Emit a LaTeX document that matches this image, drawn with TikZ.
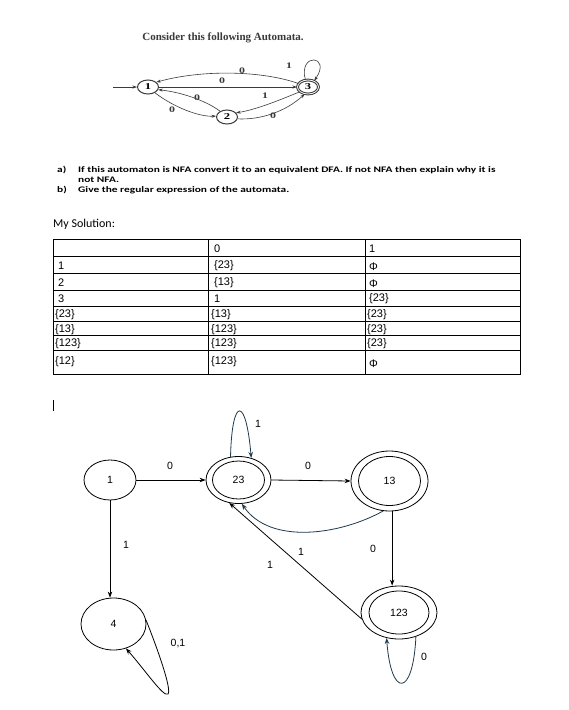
\documentclass[tikz,border=0pt]{standalone}
\usepackage{fontspec}
\setmainfont{Liberation Sans}
\newfontfamily\calib{Carlito}
\newfontfamily\timesf{Liberation Serif}
\usetikzlibrary{shapes.geometric,arrows.meta}
\definecolor{loopc}{HTML}{1E3A4C}
\definecolor{topc}{HTML}{3A3A3A}
\newcommand{\wide}[1]{\scalebox{1.4}[1]{#1}}
\newcommand{\qwide}[1]{\scalebox{1.34}[1]{#1}}
\tikzset{
  tcell/.style={anchor=west,inner sep=0pt,font=\fontsize{11}{12}\selectfont},
  tline/.style={line width=0.8pt},
  tstate/.style={ellipse,draw=topc,line width=1pt,minimum width=21pt,minimum height=14pt,inner sep=0pt,font=\timesf\bfseries\fontsize{9}{10}\selectfont},
  tedge/.style={draw=topc,line width=0.6pt,-{Stealth[length=4.5pt,width=3pt]}},
  tlbl/.style={inner sep=0pt,font=\timesf\bfseries\fontsize{8.5}{9}\selectfont,text=topc},
  qtext/.style={anchor=west,inner sep=0pt,font=\calib\bfseries\fontsize{8.5}{9}\selectfont},
  bstate/.style={ellipse,draw,line width=0.8pt,inner sep=0pt,font=\fontsize{10.5}{12}\selectfont},
  bedge/.style={draw,line width=0.8pt,-{Stealth[length=6pt,width=4.5pt]}},
  bloop/.style={draw=loopc,line width=0.8pt,-{Stealth[length=6pt,width=4.5pt]}},
  blbl/.style={inner sep=0pt,font=\fontsize{10.5}{12}\selectfont},
}
\begin{document}
\begin{tikzpicture}[x=1pt,y=-1pt]
\useasboundingbox[fill=white] (0,0) rectangle (568,710);

% ---- heading ----
\node[inner sep=0pt,font=\timesf\bfseries\fontsize{11}{12}\selectfont,text=topc] (title) at (223,38) {Consider this following Automata.};

% ---- small automaton ----
\node[tstate] (t1) at (148,87) {\wide{1}};
\node[tstate] (t2) at (227,117) {\wide{2}};
\node[tstate,double,double distance=0.8pt] (t3) at (308,87) {\wide{3}};
\coordinate (tin) at (113,87);
\draw[tedge] (tin) -- (t1);
\draw[tedge] (t1) -- (t3);
\draw[tedge] (t3.160) .. controls (260,70) and (200,70) .. (t1.30);
\draw[tedge] (t1.-40) .. controls (175,108) and (200,117) .. (t2.175);
\draw[tedge] (t2.140) .. controls (205,100) and (180,92) .. (t1.-15);
\draw[tedge] (t3.-150) .. controls (280,100) and (255,110) .. (t2.25);
\draw[tedge] (t2.-10) .. controls (260,120) and (285,112) .. (t3.-115);
\draw[tedge] (t3.110) .. controls (298,52) and (332,55) .. (t3.45);
\node[tlbl] (l13) at (222,81) {\wide{0}};
\node[tlbl] (l31) at (242,71) {\wide{0}};
\node[tlbl] (l12) at (172,110) {\wide{0}};
\node[tlbl] (l21) at (197,98) {\wide{0}};
\node[tlbl] (l32) at (265,96) {\wide{1}};
\node[tlbl] (l23) at (273,116) {\wide{0}};
\node[tlbl] (l33) at (289,66) {\wide{1}};

% ---- question ----
\node[qtext] (qa) at (57,170) {\qwide{a)}};
\node[qtext] (qa1) at (78,170) {\qwide{If this automaton is NFA convert it to an equivalent DFA. If not NFA then explain why it is}};
\node[qtext] (qa2) at (78,180) {\qwide{not NFA.}};
\node[qtext] (qb) at (57,190) {\qwide{b)}};
\node[qtext] (qb1) at (78,190) {\qwide{Give the regular expression of the automata.}};

\node[anchor=west,inner sep=0pt,font=\calib\fontsize{12}{14}\selectfont] (mysol) at (53,224) {My Solution:};

% ---- table ----
\draw[tline] (53,239.5) rectangle (520,374);
\foreach \yy in {256,273,290,306,321,335.5,350}
  \draw[tline] (53,\yy) -- (520,\yy);
\draw[tline] (208,239.5) -- (208,374);
\draw[tline] (365,239.5) -- (365,374);

\node[tcell] (h1) at (214,249) {0};
\node[tcell] (h2) at (369,249) {1};
\node[tcell] (r1a) at (58,266) {1};
\node[tcell] (r1b) at (214,266) {\{23\}};
\node[tcell] (r1c) at (369,267) {Φ};
\node[tcell] (r2a) at (58,283) {2};
\node[tcell] (r2b) at (214,283) {\{13\}};
\node[tcell] (r2c) at (369,284) {Φ};
\node[tcell] (r3a) at (58,299) {3};
\node[tcell] (r3b) at (214,299) {1};
\node[tcell] (r3c) at (369,299) {\{23\}};
\node[tcell] (r4a) at (55,315) {\{23\}};
\node[tcell] (r4b) at (211,315) {\{13\}};
\node[tcell] (r4c) at (367,315) {\{23\}};
\node[tcell] (r5a) at (55,329.5) {\{13\}};
\node[tcell] (r5b) at (211,329.5) {\{123\}};
\node[tcell] (r5c) at (367,329.5) {\{23\}};
\node[tcell] (r6a) at (55,344) {\{123\}};
\node[tcell] (r6b) at (211,344) {\{123\}};
\node[tcell] (r6c) at (367,344) {\{23\}};
\node[tcell] (r7a) at (55,362) {\{12\}};
\node[tcell] (r7b) at (211,362) {\{123\}};
\node[tcell] (r7c) at (369,364) {Φ};

% cursor
\draw[line width=0.9pt] (53,400) -- (53,411);

% ---- DFA ----
\node[bstate,minimum width=52pt,minimum height=40pt] (s1) at (110,480) {1};
\node[bstate,minimum width=65pt,minimum height=47pt] (s23) at (238.5,480) {};
\node[bstate,minimum width=52pt,minimum height=38pt] (s23i) at (238.5,480) {23};
\node[bstate,minimum width=77pt,minimum height=60pt] (s13) at (389.5,481) {};
\node[bstate,minimum width=62pt,minimum height=49pt] (s13i) at (389.5,481) {13};
\node[bstate,minimum width=65pt,minimum height=52pt] (s4) at (113.5,624) {4};
\node[bstate,minimum width=76pt,minimum height=53pt] (s123) at (399,612.5) {};
\node[bstate,minimum width=60pt,minimum height=43pt] (s123i) at (399,612.5) {123};

\draw[bedge] (s1.east) -- (s23.west);
\draw[bedge] (s23.east) -- (s13.west);
\draw[bedge] (s1.south) -- (s1.south |- s4.north);
\draw[bedge] (s13.-85) -- (s13.-85 |- s123.north);
\draw[bedge] (s123.-170) -- (s23.-112);
\draw[bloop] (s13.-102) .. controls (340,535) and (270,545) .. (s23.-82);
\draw[bloop] (s23.109) .. controls (232,396) and (246,396) .. (s23.60);
\draw[bloop] (s123.-55) .. controls (413,698) and (391,698) .. (s123.-116);
\draw[bedge] (s4.7) .. controls (158,650) and (172,690) .. (168,694) .. controls (164,698) and (145,670) .. (s4.-63);

\node[blbl] (b1) at (170,466) {0};
\node[blbl] (b2) at (308,466) {0};
\node[blbl] (b3) at (258,424) {1};
\node[blbl] (b4) at (301,552) {1};
\node[blbl] (b5) at (270,565) {1};
\node[blbl] (b6) at (373,549) {0};
\node[blbl] (b7) at (126,545) {1};
\node[blbl] (b8) at (178,643) {0,1};
\node[blbl] (b9) at (424,657) {0};
\end{tikzpicture}
\end{document}
